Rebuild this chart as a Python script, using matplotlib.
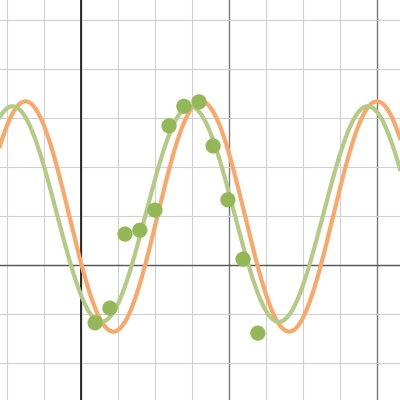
import numpy as np
import matplotlib
matplotlib.use("Agg")
import matplotlib.pyplot as plt

pts_x = [0.38, 0.78, 1.19, 1.59, 2.0, 2.38, 2.78, 3.19, 3.57, 3.97, 4.38, 4.78]
pts_y = [-1.18, -0.88, 0.63, 0.71, 1.12, 2.84, 3.24, 3.33, 2.43, 1.33, 0.12, -1.39]
# sinusoid parameters: (center, amplitude, period, peak x)
green = (1.04, 2.2, 4.8, 2.95)
orange = (0.99, 2.35, 4.75, 3.25)

fig = plt.figure(figsize=(4, 4), dpi=100)
ax = fig.add_axes([0, 0, 1, 1])
x0, x1 = -81/37, (400-81)/37
y0, y1 = -135/49, 265/49
ax.set_xlim(x0, x1); ax.set_ylim(y0, y1)
for gx in range(-2, 9):
    ax.axvline(gx, color='#777' if gx % 4 == 0 else '#d0d0d0', lw=1.0 if gx % 4 == 0 else 0.8, zorder=0)
for gy in range(-2, 6):
    ax.axhline(gy, color='#d0d0d0', lw=0.8, zorder=0)
ax.axvline(0, color='#222', lw=1.3, zorder=0)
ax.axhline(0, color='#555', lw=1.0, zorder=0)
xs = np.linspace(x0, x1, 800)
for (c, a, p, xp), col in [(orange, '#f9a86a'), (green, '#b3cb85')]:
    ax.plot(xs, c + a*np.cos(2*np.pi*(xs-xp)/p), color=col, lw=3, zorder=2)
ax.scatter(pts_x, pts_y, s=120, color='#94b858', zorder=3, edgecolors='none')
ax.axis('off')
fig.savefig('out.png')
